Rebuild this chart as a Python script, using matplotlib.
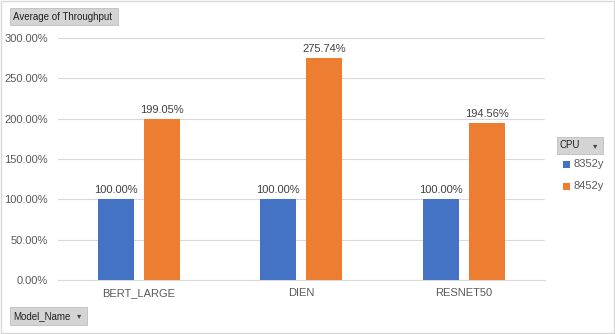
import matplotlib
matplotlib.use("Agg")
import matplotlib.pyplot as plt
import numpy as np
from matplotlib.patches import Rectangle

models = ["BERT_LARGE", "DIEN", "RESNET50"]
cpus = ["8352y", "8452y"]
throughput_8352y = [100.00, 100.00, 100.00]
throughput_8452y = [199.05, 275.74, 194.56]
colors = ["#4472C4", "#ED7D31"]

plt.rcParams["font.family"] = ["Liberation Sans", "DejaVu Sans"]
txt = "#595959"

fig = plt.figure(figsize=(6.15, 3.34), dpi=100)
ax = fig.add_axes([0.094, 0.162, 0.792, 0.724])

x = np.arange(len(models))
w = 0.222
off = 0.142
for vals, c, dx in [(throughput_8352y, colors[0], -off), (throughput_8452y, colors[1], off)]:
    bars = ax.bar(x + dx, vals, width=w, color=c, zorder=3)
    for b, v in zip(bars, vals):
        ax.text(b.get_x() + b.get_width() / 2, v + 5, f"{v:.2f}%", ha="center",
                va="bottom", fontsize=8, color="#404040")

ax.set_xlim(-0.5, 2.5)
ax.set_ylim(0, 300)
ax.set_yticks(np.arange(0, 301, 50))
ax.set_yticklabels([f"{t:.2f}%" for t in np.arange(0, 301, 50)])
ax.set_xticks(x)
ax.set_xticklabels(models)
ax.tick_params(length=0, labelsize=8, colors=txt)
ax.tick_params(axis="x", pad=6)
ax.tick_params(axis="y", pad=7)
ax.grid(axis="y", color="#d9d9d9", lw=0.8, zorder=0)
for s in ["top", "right", "left"]:
    ax.spines[s].set_visible(False)
ax.spines["bottom"].set_color("#d9d9d9")

# figure border
fig.patches.append(Rectangle((0.002, 0.003), 0.996, 0.994, transform=fig.transFigure,
                             fill=False, ec="#d9d9d9", lw=1))


def button(x0, y0, w0, h0, label, arrow=False):
    fig.patches.append(Rectangle((x0 / 615, 1 - (y0 + h0) / 334), w0 / 615, h0 / 334,
                                 transform=fig.transFigure, fc="#d4d4d4", ec="#bfbfbf", lw=0.6))
    fig.text((x0 + 3) / 615, 1 - (y0 + h0 / 2) / 334, label, fontsize=7,
             color="#202020", va="center", ha="left")
    if arrow:
        fig.text((x0 + w0 - 8) / 615, 1 - (y0 + h0 / 2) / 334, "▾", fontsize=6,
                 color="#404040", va="center", ha="center", family="DejaVu Sans")


button(10, 8, 108, 17, "Average of Throughput")
button(10, 307, 77, 18, "Model_Name", arrow=True)
button(557, 137, 46, 17, "CPU", arrow=True)

for i, (name, c) in enumerate(zip(cpus, colors)):
    yy = 164 + i * 22
    fig.patches.append(Rectangle((563 / 615, 1 - (yy + 4) / 334), 7 / 615, 7 / 334,
                                 transform=fig.transFigure, fc=c, ec="none"))
    fig.text(573 / 615, 1 - yy / 334, name, fontsize=8, color=txt, va="center")

fig.savefig("out.png", dpi=100)
